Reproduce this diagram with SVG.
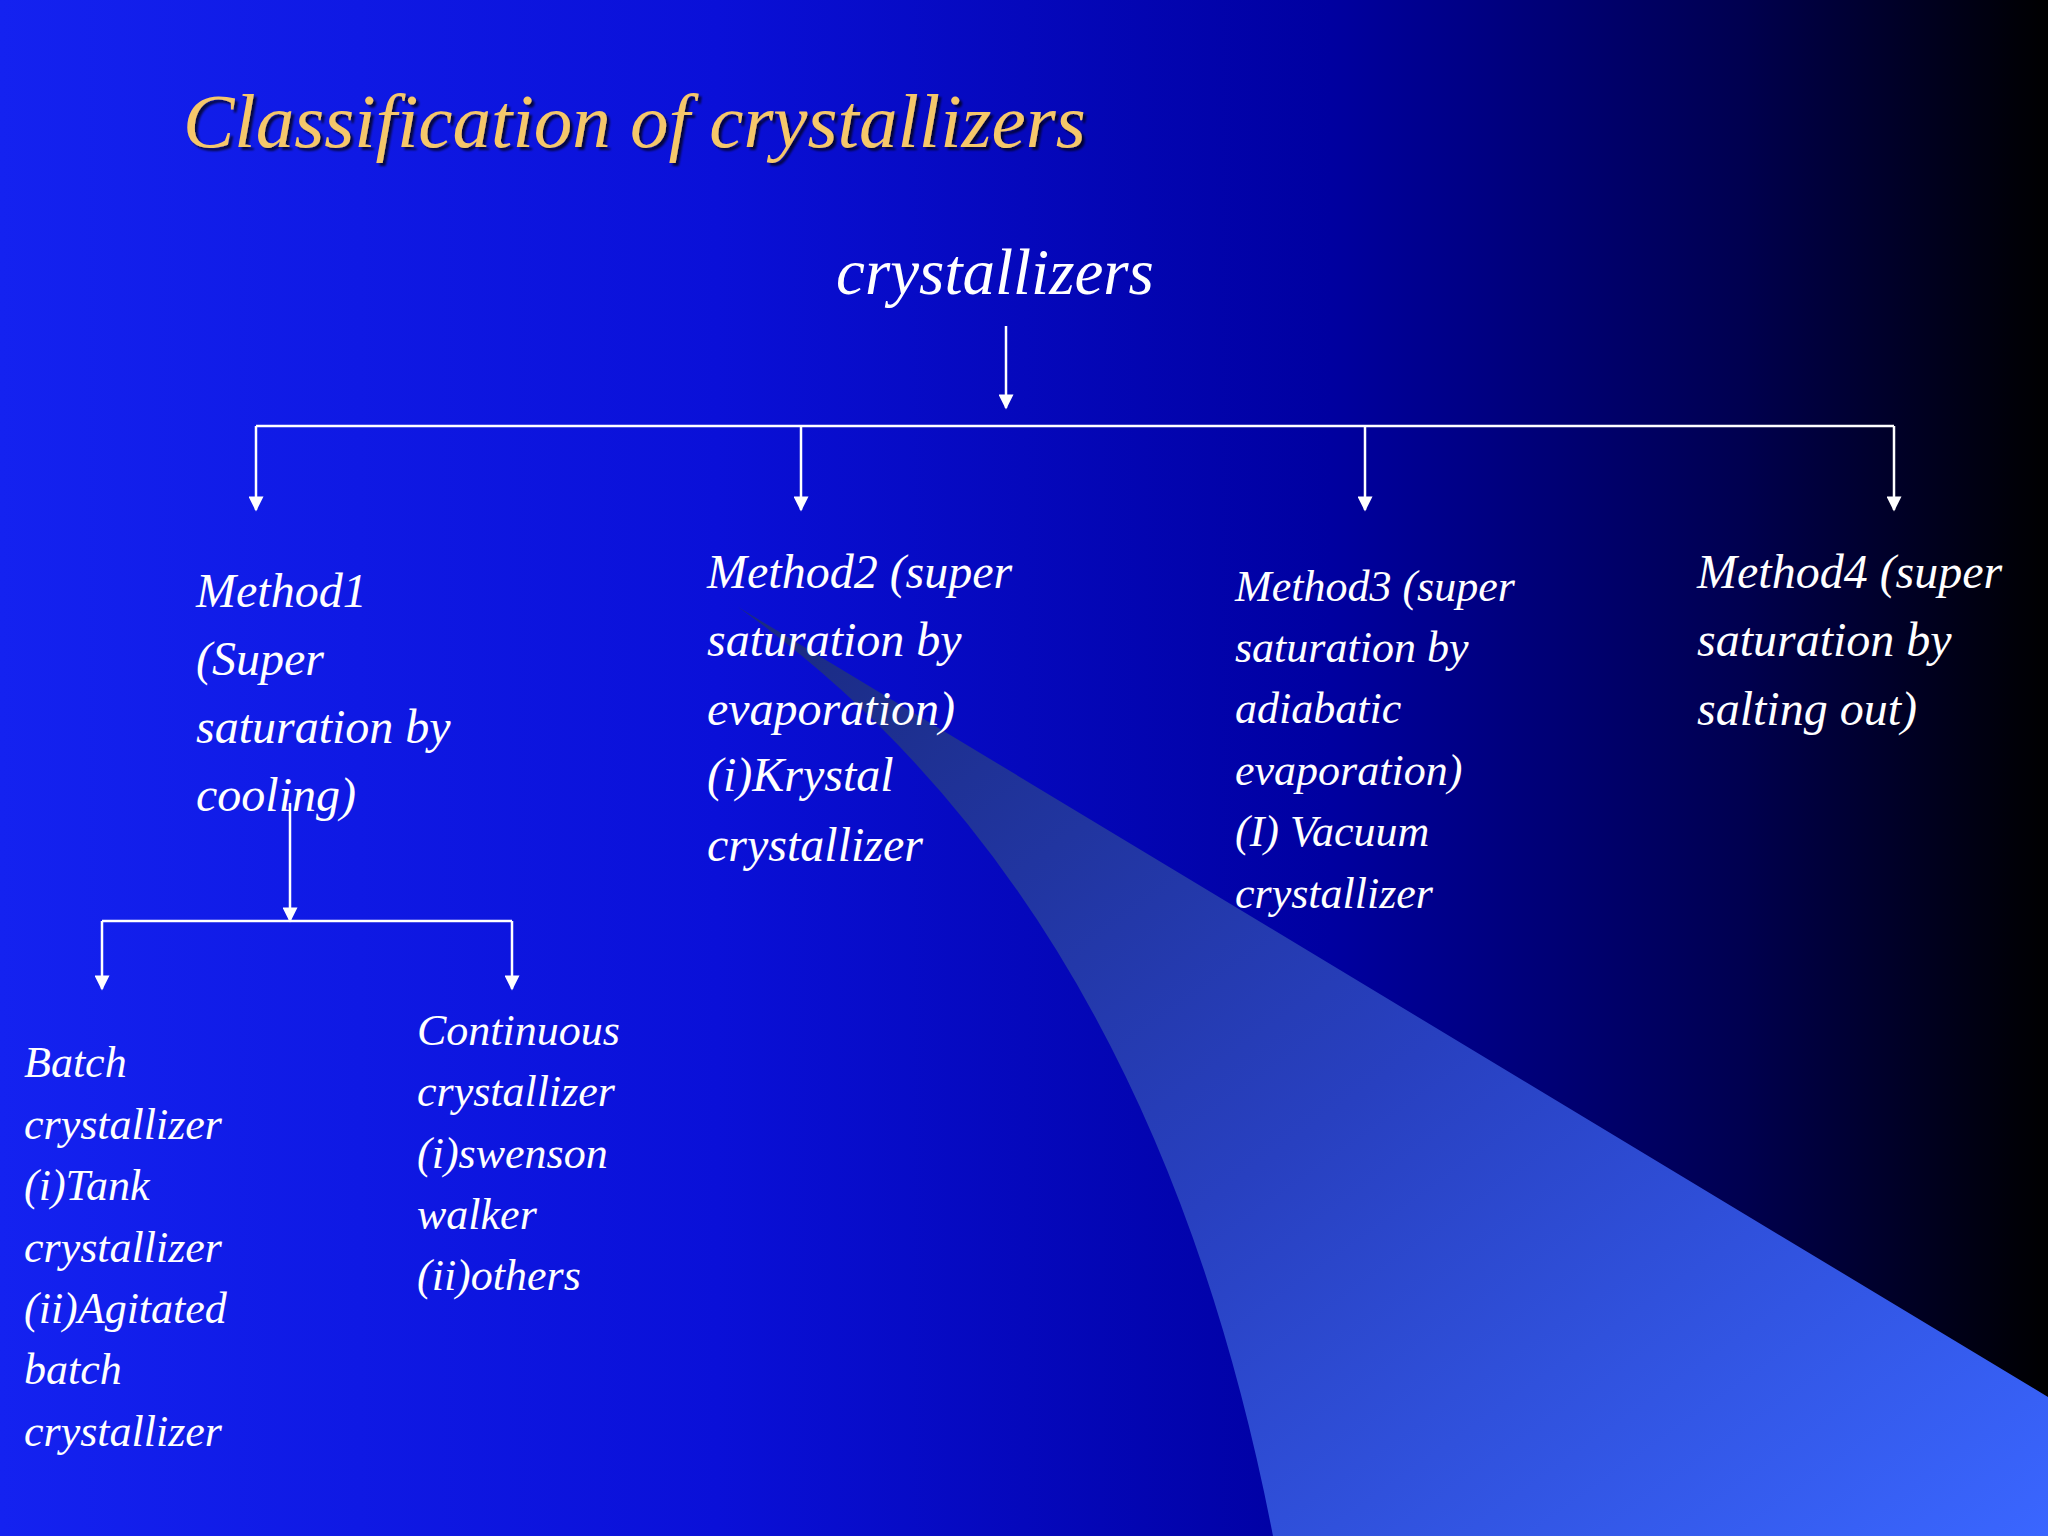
<svg xmlns="http://www.w3.org/2000/svg" width="2048" height="1536" viewBox="0 0 2048 1536">
<defs>
<linearGradient id="bg" x1="0" y1="0" x2="1" y2="0">
<stop offset="0" stop-color="#1422f0"/>
<stop offset="0.35" stop-color="#0a10d8"/>
<stop offset="0.65" stop-color="#0000a0"/>
<stop offset="0.85" stop-color="#000050"/>
<stop offset="1" stop-color="#000000"/>
</linearGradient>
<linearGradient id="wedge" x1="0" y1="0" x2="1" y2="1">
<stop offset="0" stop-color="#1a2a80"/>
<stop offset="0.5" stop-color="#2840c0"/>
<stop offset="1" stop-color="#3a66ff"/>
</linearGradient>
<marker id="ah" viewBox="0 0 10 10" refX="9" refY="5" markerWidth="7" markerHeight="6" orient="auto">
<path d="M0,0 L10,5 L0,10 z" fill="#fff"/>
</marker>
<filter id="sh"><feDropShadow dx="3" dy="3" stdDeviation="1" flood-color="#000" flood-opacity="0.7"/></filter>
<style>
.t{font-family:"Liberation Serif","DejaVu Serif",serif;font-style:italic;fill:#fff}
.m{font-size:48px}
.s{font-size:44px}
.c{stroke:#fff;stroke-width:2.5;fill:none}
.a{stroke:#fff;stroke-width:2.5;fill:none;marker-end:url(#ah)}
</style>
</defs>
<rect width="2048" height="1536" fill="url(#bg)"/>
<path d="M738,607 Q1150,900 1273,1536 L2048,1536 L2048,1397 Z" fill="url(#wedge)"/>
<text x="183" y="147" class="t" font-size="77" style="fill:#f5c76a" filter="url(#sh)">Classification of crystallizers</text>
<g id="root"><text x="995" y="294" class="t" font-size="65" text-anchor="middle">crystallizers</text></g>
<g id="connectors">
<line x1="1006" y1="326" x2="1006" y2="408" class="a"/>
<line x1="256" y1="426" x2="1894" y2="426" class="c"/>
<line x1="256" y1="426" x2="256" y2="510" class="a"/>
<line x1="801" y1="426" x2="801" y2="510" class="a"/>
<line x1="1365" y1="426" x2="1365" y2="510" class="a"/>
<line x1="1894" y1="426" x2="1894" y2="510" class="a"/>
<line x1="290" y1="803" x2="290" y2="921" class="a"/>
<line x1="102" y1="921" x2="512" y2="921" class="c"/>
<line x1="102" y1="921" x2="102" y2="989" class="a"/>
<line x1="512" y1="921" x2="512" y2="989" class="a"/>
</g>
<g id="method1"><text class="t m"><tspan x="196" y="607">Method1</tspan><tspan x="196" y="675">(Super</tspan><tspan x="196" y="743">saturation by</tspan><tspan x="196" y="811">cooling)</tspan></text></g>
<g id="method2"><text class="t m"><tspan x="707" y="588">Method2 (super</tspan><tspan x="707" y="656">saturation by</tspan><tspan x="707" y="725">evaporation)</tspan><tspan x="707" y="791">(i)Krystal</tspan><tspan x="707" y="861">crystallizer</tspan></text></g>
<g id="method3"><text class="t s"><tspan x="1235" y="601">Method3 (super</tspan><tspan x="1235" y="662">saturation by</tspan><tspan x="1235" y="723">adiabatic</tspan><tspan x="1235" y="785">evaporation)</tspan><tspan x="1235" y="846">(I) Vacuum</tspan><tspan x="1235" y="908">crystallizer</tspan></text></g>
<g id="method4"><text class="t m"><tspan x="1697" y="588">Method4 (super</tspan><tspan x="1697" y="656">saturation by</tspan><tspan x="1697" y="725">salting out)</tspan></text></g>
<g id="batch"><text class="t s"><tspan x="24" y="1077">Batch</tspan><tspan x="24" y="1139">crystallizer</tspan><tspan x="24" y="1200">(i)Tank</tspan><tspan x="24" y="1262">crystallizer</tspan><tspan x="24" y="1323">(ii)Agitated</tspan><tspan x="24" y="1384">batch</tspan><tspan x="24" y="1446">crystallizer</tspan></text></g>
<g id="continuous"><text class="t s"><tspan x="417" y="1045">Continuous</tspan><tspan x="417" y="1106">crystallizer</tspan><tspan x="417" y="1168">(i)swenson</tspan><tspan x="417" y="1229">walker</tspan><tspan x="417" y="1290">(ii)others</tspan></text></g>
</svg>
